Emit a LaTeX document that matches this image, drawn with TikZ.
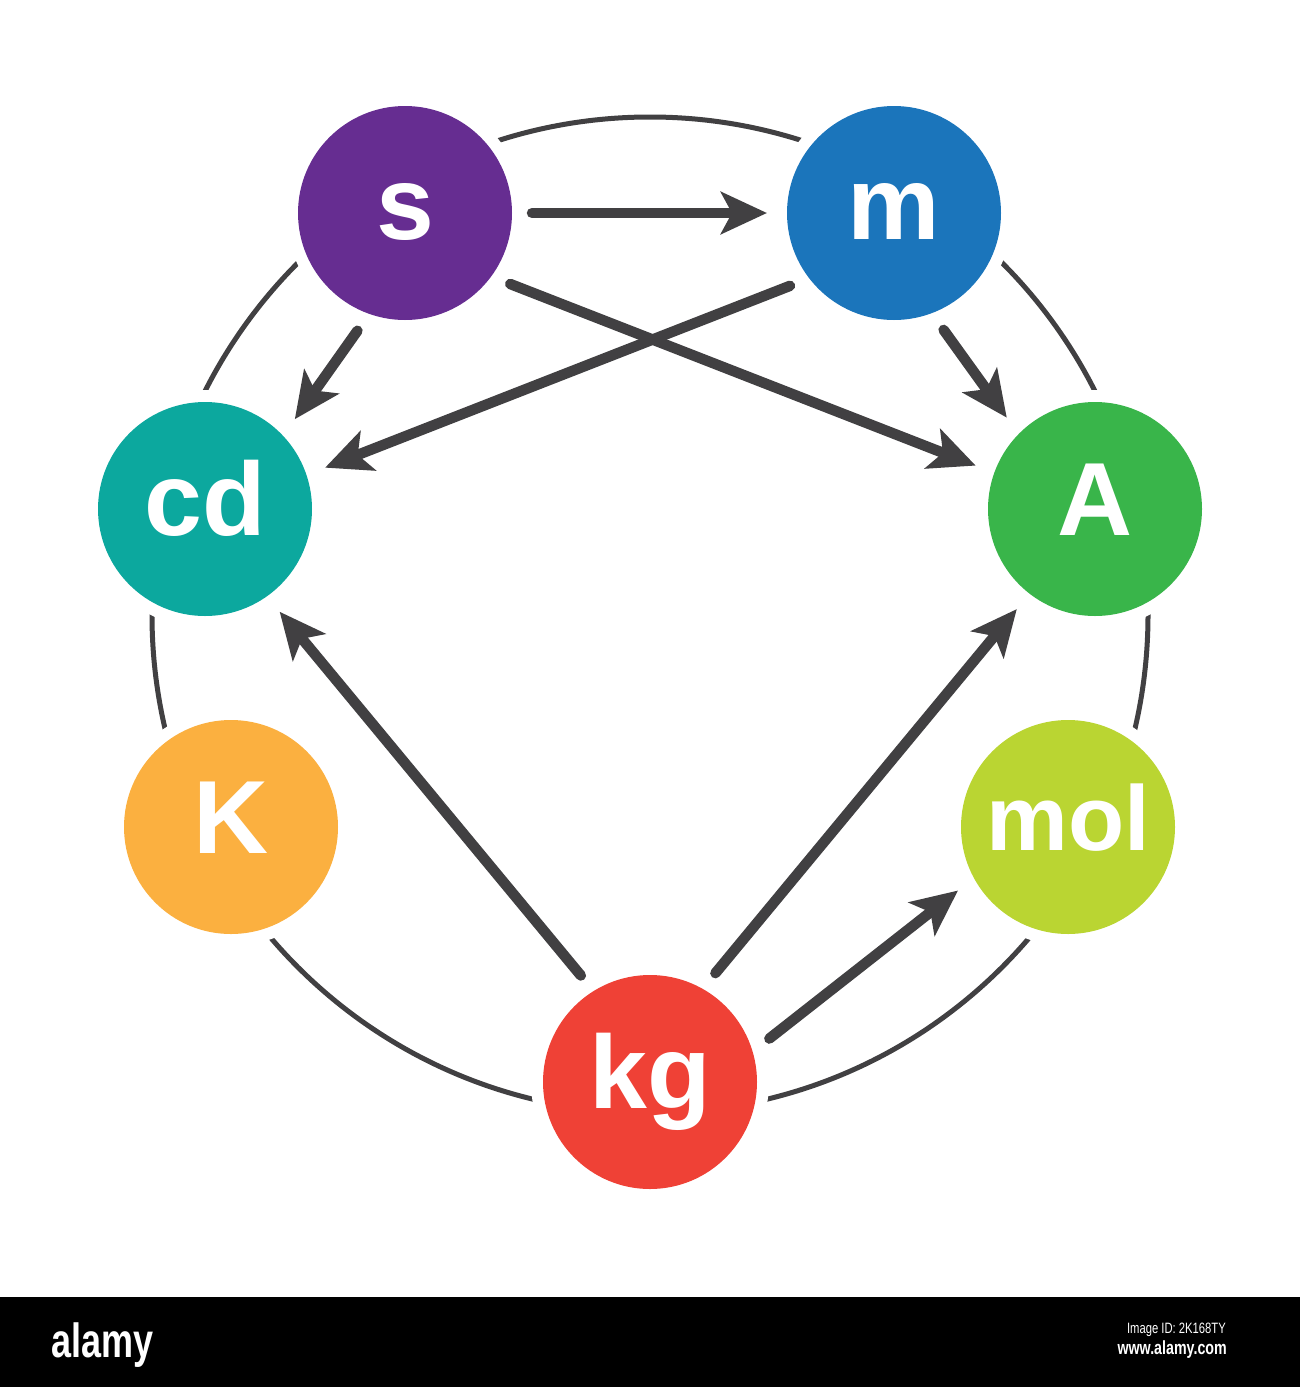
\documentclass[tikz,border=0pt]{standalone}
\usepackage{fontspec}
\setmainfont{Liberation Sans}
\newfontfamily\alamyfont[FakeStretch=0.75]{Liberation Sans}
\usepackage{tikz}
\usetikzlibrary{arrows.meta}

\definecolor{arrowgray}{HTML}{414042}
\definecolor{sPurple}{HTML}{662D91}
\definecolor{mBlue}{HTML}{1B75BB}
\definecolor{cdTeal}{HTML}{0CA89E}
\definecolor{AGreen}{HTML}{39B54A}
\definecolor{KOrange}{HTML}{FBB040}
\definecolor{molLime}{HTML}{BAD532}
\definecolor{kgRed}{HTML}{EF4136}

\begin{document}
\begin{tikzpicture}[x=1pt,y=-1pt,->,>={Stealth[length=46pt,width=42pt,inset=11pt]},
		unit node/.style={circle,minimum size=214pt,inner sep=0pt,outer sep=20pt,text=white,
			font=\fontsize{104}{104}\selectfont\bfseries,text height=52pt,text depth=0pt,
			preaction={draw=white,line width=24pt}},
		link/.style={arrowgray,line width=10.5pt,line cap=round},
		bar text/.style={text=white,inner sep=0pt}]
		
		\fill[white] (0,0) rectangle (1300,1387);
		\useasboundingbox (0,0) rectangle (1300,1387);
		
		% ring behind the units
		\coordinate (ringc) at (650,615);
		\draw[-,arrowgray,line width=5pt] (ringc) circle[radius=498pt];
		
		\node[unit node,fill=sPurple](s) at (405,213){s};
		\node[unit node,fill=mBlue](m) at (894,213){m};
		\node[unit node,fill=cdTeal](cd) at (205,509){cd};
		\node[unit node,fill=AGreen](A) at (1095,509){A};
		\node[unit node,fill=KOrange](K) at (231,827){K};
		\node[unit node,fill=molLime,font=\fontsize{92}{92}\selectfont\bfseries,text height=46pt](mol) at (1068,827){mol};
		\node[unit node,fill=kgRed](kg) at (650,1082){kg};
		
		\path[link]
		(s.0) edge (m.180)
		(s.-112) edge (cd.45)
		(m.-145) edge (cd.19)
		(s.-34) edge (A.160)
		(m.-67) edge (A.134)
		(kg.123) edge (cd.-54)
		(kg.59) edge (A.-128)
		(kg.20) edge (mol.-150);
		
		% stock photo strip
		\fill[black] (0,1297) rectangle (1300,1387);
		\node[bar text,anchor=base west,font=\alamyfont\bfseries\fontsize{48}{48}\selectfont](brand) at (51,1357){alamy};
		\node[bar text,anchor=base east,font=\alamyfont\fontsize{15}{15}\selectfont](imgid) at (1226,1333){Image ID: 2K168TY};
		\node[bar text,anchor=base east,font=\alamyfont\bfseries\fontsize{19}{19}\selectfont](site) at (1227,1354){www.alamy.com};
		
\end{tikzpicture}
\end{document}
